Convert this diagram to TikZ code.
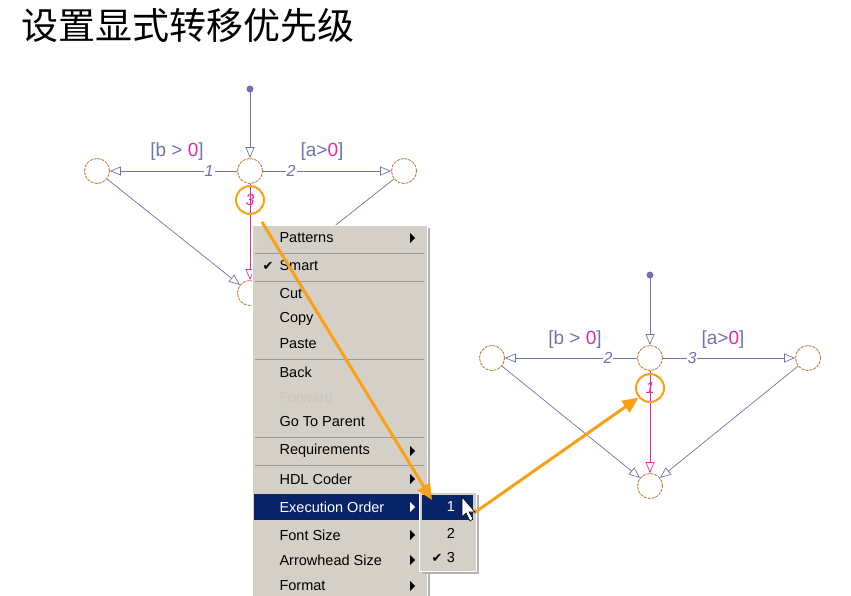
\documentclass[tikz,border=0pt]{standalone}
\usepackage{fontspec}
\setmainfont{Liberation Sans}
\newfontfamily\cjk{Noto Sans CJK SC}
\newfontfamily\dv{DejaVu Sans}
\usetikzlibrary{arrows.meta}
\definecolor{stc}{RGB}{190,110,40}
\definecolor{trc}{RGB}{110,115,170}
\definecolor{mg}{RGB}{230,40,160}
\definecolor{org}{RGB}{250,160,20}
\definecolor{menubg}{RGB}{212,208,200}
\definecolor{hl}{RGB}{10,36,106}
\begin{document}
\begin{tikzpicture}[x=1pt,y=-1pt,
 st/.style={circle,draw=stc,dash pattern=on 3pt off 1pt,line width=0.8pt,fill=white,minimum size=25pt,inner sep=0},
 tr/.style={draw=trc,line width=0.7pt,-{Triangle[open,length=11pt,width=9pt]}},
 ptr/.style={draw=mg,line width=0.7pt,-{Triangle[open,length=11pt,width=9pt]}},
 lab/.style={text=trc,font=\fontsize{19}{19}\selectfont},
 num/.style={fill=white,inner sep=1pt,text=trc,font=\fontsize{16}{16}\selectfont\itshape},
 oc/.style={circle,draw=org,line width=2pt,minimum size=28pt,inner sep=0,text=mg,font=\fontsize{16}{16}\selectfont\itshape},
 oarr/.style={draw=org,line width=3pt,-{Triangle[length=16pt,width=14pt]}},
 mi/.style={anchor=west,font=\fontsize{14.5}{14.5}\selectfont,text=black},
 ck/.style={font=\dv\bfseries\fontsize{13}{13}\selectfont},
 sep/.style={draw=gray!80,line width=0.6pt}]
\useasboundingbox (0,0) rectangle (851,596);
\node[anchor=west,font=\cjk\fontsize{37}{37}\selectfont] (title) at (18,26) {设置显式转移优先级};
% left diagram
\fill[trc] (250,89) circle (3.5) coordinate (d1);
\node[st] (c1) at (250,171) {};
\node[st] (l1) at (97,171) {};
\node[st] (r1) at (404,171) {};
\node[st] (b1) at (250,293) {};
\draw[tr] (d1) -- (c1);
\draw[tr] (c1) -- node[num,pos=0.22]{1} (l1);
\draw[tr] (c1) -- node[num,pos=0.22]{2} (r1);
\draw[tr] (l1) -- (b1);
\draw[tr] (r1) -- (b1);
\draw[ptr] (c1) -- (b1);
\node[oc] (o1) at (250,200) {3};
\node[lab] at (177,152) {[b > \textcolor{mg}{0}]};
\node[lab] at (322,152) {[a>\textcolor{mg}{0}]};
% right diagram
\fill[trc] (650,275) circle (3.5) coordinate (d2);
\node[st] (c2) at (650,358) {};
\node[st] (l2) at (492,358) {};
\node[st] (r2) at (808,358) {};
\node[st] (b2) at (650,486) {};
\draw[tr] (d2) -- (c2);
\draw[tr] (c2) -- node[num,pos=0.22]{2} (l2);
\draw[tr] (c2) -- node[num,pos=0.22]{3} (r2);
\draw[tr] (l2) -- (b2);
\draw[tr] (r2) -- (b2);
\draw[ptr] (c2) -- (b2);
\node[oc] (o2) at (650,388) {1};
\node[lab] at (575,340) {[b > \textcolor{mg}{0}]};
\node[lab] at (723,340) {[a>\textcolor{mg}{0}]};
% menu
\fill[gray!60] (255,228) rectangle (430,596);
\fill[menubg,draw=white,line width=0.8pt] (252,225) rectangle (427,596);
\fill[hl] (254,494) rectangle (425,520);
\foreach \y in {253,281,359,437,465} \draw[sep] (255,\y) -- (424,\y);
\node[mi] (m1) at (276,238) {Patterns};
\node[mi] (m2) at (276,266) {Smart};
\node[mi] at (276,294) {Cut};
\node[mi] at (276,319) {Copy};
\node[mi] at (276,344) {Paste};
\node[mi] at (276,372) {Back};
\node[mi,text=gray!45] at (276,397) {Forward};
\node[mi] at (276,422) {Go To Parent};
\node[mi] at (276,451) {Requirements};
\node[mi] at (276,479) {HDL Coder};
\node[mi,text=white] (eo) at (276,507) {Execution Order};
\node[mi] at (276,535) {Font Size};
\node[mi] at (276,560) {Arrowhead Size};
\node[mi] at (276,586) {Format};
\node[ck] at (268,266) {✔};
\foreach \y/\c in {238/black,451/black,479/black,507/white,535/black,560/black,586/black}
  \fill[\c] (410,\y-5) -- (415,\y) -- (410,\y+5) -- cycle;
% submenu
\fill[gray!60] (422,495) rectangle (479,574);
\fill[menubg,draw=white,line width=0.8pt] (419,492) rectangle (476,571);
\fill[hl] (422,495) rectangle (473,520);
\node[mi,text=white,anchor=center] (s1) at (451,507) {1};
\node[mi,anchor=center] (s2) at (451,533) {2};
\node[mi,anchor=center] (s3) at (451,558) {3};
\node[ck] at (437,558) {✔};
% orange arrows
\coordinate (a1s) at (262,222);
\coordinate (a1e) at (432,500);
\draw[oarr] (a1s) -- (a1e);
\coordinate (a2s) at (474,513);
\draw[oarr] (a2s) -- (o2.220);
% cursor
\draw[black,fill=white,line width=0.6pt] (462,497) -- (462,517) -- (466,513) -- (470,521) -- (473,519) -- (469,512) -- (475,512) -- cycle;
\end{tikzpicture}
\end{document}
